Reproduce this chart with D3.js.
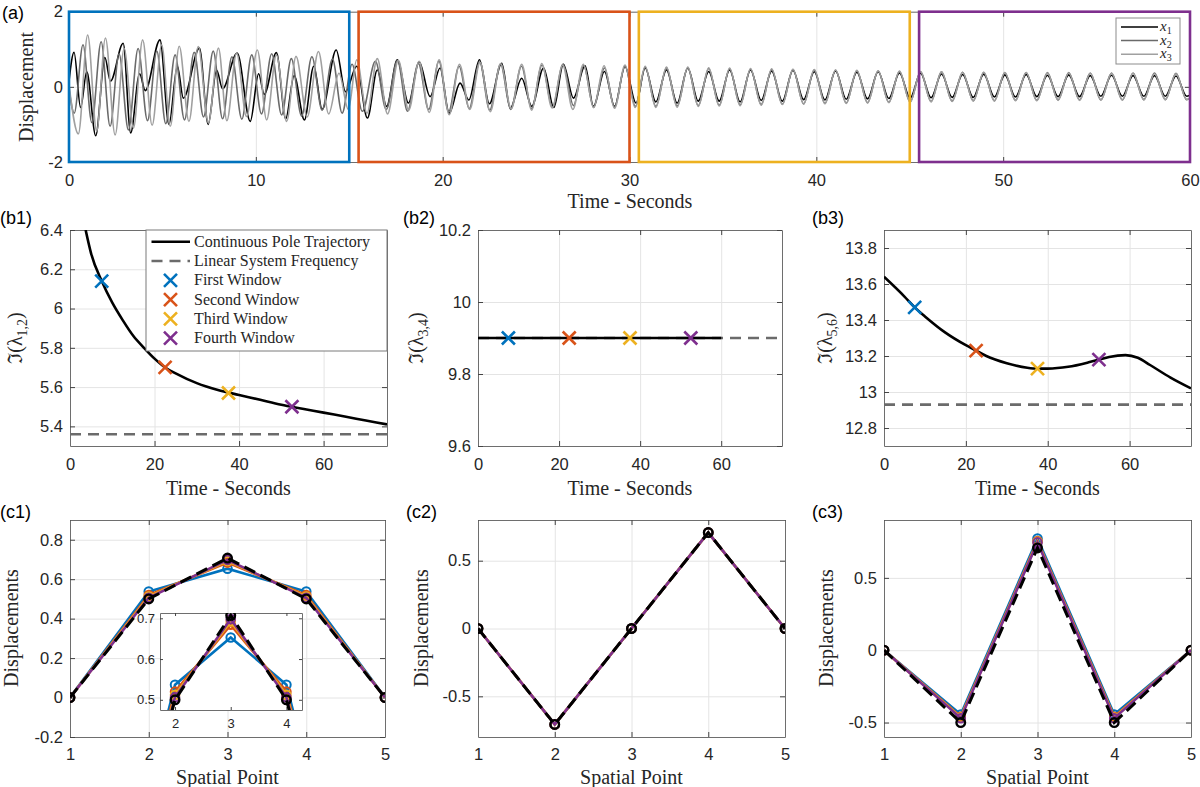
<!DOCTYPE html>
<html>
<head>
<meta charset="utf-8">
<script src="https://cdn.jsdelivr.net/npm/d3@7"></script>
<style>
  body { margin: 0; background: #fff; }
</style>
</head>
<body>
<svg id="fig" width="1200" height="787"></svg>
<script>
// ---- data ----
const seriesNames = ["x1", "x2", "x3"];
const windowNames = ["First Window", "Second Window", "Third Window", "Fourth Window"];
const windowStart = [0, 15.5, 30.5, 45.5];
const windowEnd = [15, 30, 45, 60];
const windowMid = [7.5, 22.5, 37.5, 52.5];

// (a) displacement extrema, early part: [time, value]
const x1Early = [[0.00,0.15],[0.27,0.92],[0.62,-0.55],[0.95,0.40],[1.43,-1.30],[1.92,0.78],[2.22,0.15],[2.90,1.16],[3.30,-1.23],[3.78,0.35],[4.08,-0.10],[4.87,1.25],[5.35,-1.00],[5.80,0.55],[6.12,-0.30],[6.98,1.03],[7.45,-1.00],[7.90,0.45],[8.22,-0.05],[9.00,0.90],[9.70,-0.92],[10.15,0.35],[10.45,-0.20],[11.10,0.91],[11.60,-0.85],[12.05,0.30],[12.60,-0.88],[13.10,0.55],[13.55,-0.60],[14.30,0.98],[14.80,-0.13],[15.40,0.55],[15.97,-0.83],[16.50,0.45],[17.00,-0.52],[17.57,0.72],[18.17,-0.43],[18.74,0.67],[19.33,-0.26],[19.86,0.50],[20.35,-0.70],[20.93,0.10],[21.40,-0.35],[21.97,0.72],[22.50,-0.45],[23.16,0.63],[23.62,-0.57],[24.23,0.23],[24.77,-0.52],[25.40,0.50],[25.95,-0.55],[26.46,0.60],[27.00,-0.30],[27.62,0.56],[28.07,-0.52],[28.66,0.41],[29.20,-0.52],[29.76,0.54],[30.35,-0.43]];
const x2Early = [[0.00,-0.05],[0.28,-0.70],[0.75,1.12],[1.22,-0.95],[1.72,1.20],[2.20,-1.05],[2.68,0.88],[3.18,-1.15],[3.70,1.02],[4.20,-0.90],[4.70,0.95],[5.18,-0.98],[5.68,0.85],[6.18,-0.88],[6.70,0.92],[7.20,-0.80],[7.72,0.95],[8.22,-0.85],[8.72,0.80],[9.25,-0.86],[9.78,0.85],[10.30,-0.72],[10.85,0.88],[11.38,-0.75],[11.90,0.75],[12.45,-0.78],[13.00,0.80],[13.55,-0.62],[14.10,0.74],[14.62,-0.70],[15.15,0.60],[15.70,-0.65],[16.40,0.68],[16.98,-0.60],[17.58,0.70],[18.12,-0.65],[18.70,0.62],[19.25,-0.60],[19.80,0.68],[20.32,-0.66],[20.88,0.55],[21.42,-0.58],[21.98,0.66],[22.52,-0.62],[23.10,0.60],[23.64,-0.60],[24.22,0.55],[24.76,-0.58],[25.32,0.58],[25.88,-0.55],[26.44,0.60],[27.00,-0.50],[27.55,0.56],[28.08,-0.55],[28.66,0.50],[29.20,-0.54],[29.76,0.55],[30.32,-0.52]];
const x3Early = [[0.00,0.05],[0.50,-1.25],[1.00,1.38],[1.48,-1.18],[1.95,1.30],[2.47,-1.28],[2.95,1.02],[3.45,-1.10],[3.94,1.25],[4.45,-1.02],[4.96,1.12],[5.42,-1.05],[5.90,1.08],[6.42,-0.92],[6.92,1.07],[7.46,-0.96],[8.00,1.03],[8.45,-0.90],[8.97,0.90],[9.50,-0.79],[10.08,0.98],[10.58,-0.88],[11.10,0.85],[11.65,-0.92],[12.15,0.81],[12.75,-0.80],[13.35,0.94],[13.90,-0.72],[14.45,0.36],[14.95,-0.60],[15.40,0.72],[15.95,-0.70],[16.50,0.75],[17.05,-0.72],[17.63,0.70],[18.18,-0.62],[18.74,0.68],[19.28,-0.68],[19.81,0.72],[20.35,-0.74],[20.90,0.60],[21.45,-0.60],[22.00,0.65],[22.55,-0.66],[23.10,0.62],[23.67,-0.58],[24.23,0.60],[24.77,-0.62],[25.30,0.62],[25.86,-0.56],[26.42,0.58],[26.97,-0.60],[27.53,0.60],[28.08,-0.55],[28.64,0.56],[29.20,-0.57],[29.76,0.58],[30.30,-0.55]];

// (a) late part: shared extrema times, one value list per series
const tLate = [30.84,31.41,31.98,32.55,33.12,33.68,34.24,34.80,35.36,35.92,36.48,37.05,37.61,38.18,38.75,39.32,39.89,40.46,41.03,41.60,42.17,42.74,43.31,43.88,44.45,45.02,45.58,46.14,46.70,47.27,47.83,48.40,48.96,49.53,50.09,50.66,51.23,51.80,52.37,52.94,53.51,54.09,54.66,55.23,55.80,56.38,56.95,57.53,58.10,58.68,59.25,59.82,60.00];
const x1Late = [0.50,-0.40,0.45,-0.43,0.50,-0.38,0.41,-0.38,0.45,-0.40,0.45,-0.36,0.42,-0.38,0.44,-0.34,0.40,-0.35,0.42,-0.33,0.39,-0.32,0.40,-0.31,0.37,-0.30,0.36,-0.29,0.34,-0.28,0.33,-0.28,0.34,-0.27,0.32,-0.27,0.33,-0.26,0.31,-0.26,0.32,-0.26,0.30,-0.25,0.31,-0.25,0.30,-0.25,0.30,-0.25,0.29,-0.25,-0.22];
const x2Late = [0.52,-0.52,0.51,-0.51,0.50,-0.50,0.49,-0.49,0.48,-0.48,0.47,-0.47,0.46,-0.46,0.46,-0.45,0.45,-0.44,0.44,-0.43,0.43,-0.42,0.42,-0.41,0.41,-0.40,0.40,-0.39,0.40,-0.38,0.39,-0.37,0.39,-0.37,0.38,-0.36,0.38,-0.36,0.38,-0.35,0.38,-0.35,0.37,-0.35,0.37,-0.35,0.37,-0.34,0.37,-0.34,0.36,-0.34,-0.30];
const x3Late = [0.55,-0.55,0.53,-0.54,0.53,-0.52,0.51,-0.51,0.50,-0.50,0.49,-0.49,0.48,-0.47,0.47,-0.46,0.46,-0.45,0.45,-0.44,0.44,-0.43,0.43,-0.42,0.42,-0.41,0.41,-0.40,0.40,-0.39,0.39,-0.38,0.39,-0.38,0.38,-0.37,0.38,-0.37,0.37,-0.36,0.37,-0.36,0.36,-0.35,0.36,-0.35,0.36,-0.35,0.35,-0.34,0.35,-0.34,-0.30];

// (b) pole trajectories
const b1T = [3.7,5,7.5,10,12.5,15,17.5,20,22.5,25,30,35,40,45,50,55,60,65,70,75];
const b1V = [6.40,6.28,6.14,6.03,5.94,5.86,5.80,5.745,5.70,5.67,5.62,5.585,5.56,5.535,5.51,5.49,5.47,5.45,5.43,5.41];
const b2T = [0, 60];
const b2V = [9.90, 9.90];
const b3T = [0,5,7.5,10,15,20,22.5,25,30,35,37.5,40,45,50,52.5,55,59,62,65,70,75];
const b3V = [13.64,13.53,13.47,13.42,13.33,13.26,13.23,13.20,13.16,13.135,13.13,13.13,13.14,13.165,13.18,13.195,13.205,13.19,13.15,13.08,13.02];
const linearFreq = [5.36, 9.90, 12.93];
const b1Win = [6.14, 5.70, 5.57, 5.50];
const b2Win = [9.90, 9.90, 9.90, 9.90];
const b3Win = [13.47, 13.23, 13.13, 13.18];

// (c) mode shapes: one row per window, then the linear mode
const spatialPts = [1, 2, 3, 4, 5];
const c1Win = [[0,0.537,0.653,0.537,0],[0,0.520,0.684,0.520,0],[0,0.512,0.692,0.512,0],[0,0.506,0.698,0.506,0]];
const c1Lin = [0,0.5,0.707,0.5,0];
const c2Win = [[0,-0.707,0,0.707,0],[0,-0.707,0,0.707,0],[0,-0.707,0,0.707,0],[0,-0.707,0,0.707,0]];
const c2Lin = [0,-0.707,0,0.707,0];
const c3Win = [[0,-0.445,0.772,-0.445,0],[0,-0.46,0.755,-0.46,0],[0,-0.465,0.75,-0.465,0],[0,-0.47,0.745,-0.47,0]];
const c3Lin = [0,-0.5,0.707,-0.5,0];

// ticks
const aXTicks = [0,10,20,30,40,50,60];
const aYTicks = [-2,0,2];
const bXTicks = [0,20,40,60];
const b1YTicks = [5.4,5.6,5.8,6,6.2,6.4];
const b2YTicks = [9.6,9.8,10,10.2];
const b3YTicks = [12.8,13,13.2,13.4,13.6,13.8];
const cXTicks = [1,2,3,4,5];
const c1YTicks = [-0.2,0,0.2,0.4,0.6,0.8];
const c23YTicks = [-0.5,0,0.5];
const insetXTicks = [2,3,4];
const insetYTicks = [0.5,0.6,0.7];

// ---- drawing ----
const svg = d3.select("#fig");
const sans = "'Liberation Sans', Arial, Helvetica, sans-serif";
const serif = "'Liberation Serif', 'Times New Roman', serif";
const winColors = ["#0072BD", "#D95319", "#EDB120", "#7E2F8E"];
const seriesColors = ["#000000", "#6a6a6a", "#a0a0a0"];
const fmt = d => String(Math.round(d * 100) / 100);
let clipN = 0;

function axes(o) {
    const x = d3.scaleLinear().domain(o.xd).range([o.l, o.r]);
    const y = d3.scaleLinear().domain(o.yd).range([o.b, o.t]);
    const w = o.r - o.l, h = o.b - o.t;
    const fs = o.fs || 16.5;
    const g = svg.append("g");
    g.append("rect").attr("x", o.l).attr("y", o.t).attr("width", w).attr("height", h).attr("fill", "#fff");

    if (o.grid !== false) {
        const gridStyle = s => { s.select(".domain").remove(); s.selectAll("line").attr("stroke", "#e4e4e4"); };
        g.append("g").attr("transform", `translate(0,${o.b})`)
            .call(d3.axisBottom(x).tickValues(o.xt).tickSize(-h).tickFormat(""))
            .call(gridStyle);
        g.append("g").attr("transform", `translate(${o.l},0)`)
            .call(d3.axisLeft(y).tickValues(o.yt).tickSize(-w).tickFormat(""))
            .call(gridStyle);
    }

    const styleAx = s => {
        s.select(".domain").attr("stroke", "#6e6e6e").attr("stroke-width", 1);
        s.selectAll(".tick line").attr("stroke", "#444");
        s.selectAll("text").attr("font-family", sans).attr("font-size", fs).attr("fill", "#262626");
    };
    g.append("g").attr("transform", `translate(0,${o.b})`)
        .call(d3.axisBottom(x).tickValues(o.xt).tickSizeInner(-o.tk).tickSizeOuter(0).tickPadding(o.px || 12).tickFormat(fmt))
        .call(styleAx);
    g.append("g").attr("transform", `translate(0,${o.t})`)
        .call(d3.axisTop(x).tickValues(o.xt).tickSizeInner(-o.tk).tickSizeOuter(0).tickFormat(""))
        .call(styleAx);
    g.append("g").attr("transform", `translate(${o.l},0)`)
        .call(d3.axisLeft(y).tickValues(o.yt).tickSizeInner(-o.tk).tickSizeOuter(0).tickPadding(o.py || 7).tickFormat(fmt))
        .call(styleAx);
    g.append("g").attr("transform", `translate(${o.r},0)`)
        .call(d3.axisRight(y).tickValues(o.yt).tickSizeInner(-o.tk).tickSizeOuter(0).tickFormat(""))
        .call(styleAx);

    const id = "clip" + (clipN++);
    g.append("clipPath").attr("id", id).append("rect")
        .attr("x", o.l).attr("y", o.t).attr("width", w).attr("height", h);
    const plot = g.append("g").attr("clip-path", `url(#${id})`);
    return { x, y, g, plot };
}

function panelLabel(txt, x, y) {
    svg.append("text").attr("x", x).attr("y", y).attr("font-family", sans)
        .attr("font-size", 18).attr("fill", "#000").text(txt);
}

function xLabel(txt, x, y) {
    svg.append("text").attr("x", x).attr("y", y).attr("text-anchor", "middle")
        .attr("font-family", serif).attr("font-size", 20).attr("fill", "#262626").text(txt);
}

function yLabel(x, y, main, sub, tail) {
    const t = svg.append("text").attr("transform", `translate(${x},${y}) rotate(-90)`)
        .attr("text-anchor", "middle").attr("font-family", serif).attr("font-size", 20).attr("fill", "#262626");
    t.append("tspan").text(main);
    if (sub) {
        t.append("tspan").attr("font-size", 14).attr("dy", 5).text(sub);
        t.append("tspan").attr("dy", -5).text(tail);
    }
}

const crossPath = "M-6.5,-6.5L6.5,6.5M-6.5,6.5L6.5,-6.5";

// ---------- (a) ----------
const A = axes({ l: 69, r: 1190, t: 11.7, b: 162, xd: [0, 60], yd: [-2, 2], xt: aXTicks, yt: aYTicks, tk: 5, px: 12, py: 6 });
const lineA = d3.line().x(d => A.x(d[0])).y(d => A.y(d[1])).curve(d3.curveMonotoneX);
const series = [
    x1Early.concat(tLate.map((t, i) => [t, x1Late[i]])),
    x2Early.concat(tLate.map((t, i) => [t, x2Late[i]])),
    x3Early.concat(tLate.map((t, i) => [t, x3Late[i]]))
];
series.forEach((s, i) => {
    A.plot.append("path").datum(s).attr("d", lineA).attr("fill", "none")
        .attr("stroke", seriesColors[i]).attr("stroke-width", 1.6);
});
windowStart.forEach((ws, i) => {
    svg.append("rect")
        .attr("x", A.x(ws)).attr("y", A.y(2))
        .attr("width", A.x(windowEnd[i]) - A.x(ws)).attr("height", A.y(-2) - A.y(2))
        .attr("fill", "none").attr("stroke", winColors[i]).attr("stroke-width", 2.6);
});
// legend (a)
const legA = svg.append("g");
legA.append("rect").attr("x", 1116).attr("y", 18).attr("width", 64).attr("height", 46)
    .attr("fill", "#fff").attr("stroke", "#8c8c8c").attr("stroke-width", 1);
seriesNames.forEach((n, i) => {
    const yy = 27 + i * 13.6;
    legA.append("line").attr("x1", 1121).attr("x2", 1158).attr("y1", yy).attr("y2", yy)
        .attr("stroke", seriesColors[i]).attr("stroke-width", 1.5);
    const t = legA.append("text").attr("x", 1160).attr("y", yy + 4).attr("font-family", serif)
        .attr("font-size", 15).attr("fill", "#262626");
    t.append("tspan").attr("font-style", "italic").text(n[0]);
    t.append("tspan").attr("font-size", 10).attr("dy", 3).text(n.slice(1));
});
panelLabel("(a)", 2, 19);
xLabel("Time - Seconds", 630, 208);
yLabel(33, 87, "Displacement");

// ---------- (b) ----------
const bPanels = [
    { l: 70, r: 387, yd: [5.3, 6.4], yt: b1YTicks, T: b1T, V: b1V, win: b1Win, lab: "(b1)", lx: 0, sub: "1,2", ylx: 22 },
    { l: 478, r: 782, yd: [9.6, 10.2], yt: b2YTicks, T: b2T, V: b2V, win: b2Win, lab: "(b2)", lx: 403, sub: "3,4", ylx: 423 },
    { l: 884, r: 1191, yd: [12.7, 13.9], yt: b3YTicks, T: b3T, V: b3V, win: b3Win, lab: "(b3)", lx: 812, sub: "5,6", ylx: 832 }
];
bPanels.forEach((p, k) => {
    const B = axes({ l: p.l, r: p.r, t: 230, b: 446, xd: [0, 75], yd: p.yd, xt: bXTicks, yt: p.yt, tk: 5, px: 12, py: 7 });
    B.plot.append("line")
        .attr("x1", B.x(0)).attr("x2", B.x(75))
        .attr("y1", B.y(linearFreq[k])).attr("y2", B.y(linearFreq[k]))
        .attr("stroke", "#6b6b6b").attr("stroke-width", 2.6).attr("stroke-dasharray", "11,7");
    const ln = d3.line().x((d, i) => B.x(p.T[i])).y(d => B.y(d)).curve(d3.curveMonotoneX);
    B.plot.append("path").datum(p.V).attr("d", ln).attr("fill", "none")
        .attr("stroke", "#000").attr("stroke-width", 2.6);
    p.win.forEach((v, i) => {
        B.plot.append("path").attr("d", crossPath)
            .attr("transform", `translate(${B.x(windowMid[i])},${B.y(v)})`)
            .attr("fill", "none").attr("stroke", winColors[i]).attr("stroke-width", 2.6);
    });
    panelLabel(p.lab, p.lx, 224);
    xLabel("Time - Seconds", (p.l + p.r) / 2, 495);
    yLabel(p.ylx, 338, "\u2111(\u03bb", p.sub, ")");

    if (k === 0) {
        const leg = svg.append("g");
        leg.append("rect").attr("x", 146).attr("y", 230).attr("width", 241).attr("height", 121)
            .attr("fill", "#fff").attr("stroke", "#7a7a7a").attr("stroke-width", 1);
        const rows = ["Continuous Pole Trajectory", "Linear System Frequency"].concat(windowNames);
        rows.forEach((r, i) => {
            const yy = 241.7 + i * 19.3;
            if (i === 0) {
                leg.append("line").attr("x1", 151.5).attr("x2", 190).attr("y1", yy).attr("y2", yy)
                    .attr("stroke", "#000").attr("stroke-width", 2.6);
            } else if (i === 1) {
                leg.append("line").attr("x1", 151.5).attr("x2", 190).attr("y1", yy).attr("y2", yy)
                    .attr("stroke", "#6b6b6b").attr("stroke-width", 2.6).attr("stroke-dasharray", "11,7");
            } else {
                leg.append("path").attr("d", crossPath).attr("transform", `translate(170.5,${yy})`)
                    .attr("fill", "none").attr("stroke", winColors[i - 2]).attr("stroke-width", 2.6);
            }
            leg.append("text").attr("x", 194).attr("y", yy + 5).attr("font-family", serif)
                .attr("font-size", 16).attr("fill", "#262626").text(r);
        });
    }
});

// ---------- (c) ----------
function drawModes(C, win, lin, r) {
    const ln = d3.line().x((d, i) => C.x(spatialPts[i])).y(d => C.y(d));
    win.forEach((m, i) => {
        C.plot.append("path").datum(m).attr("d", ln).attr("fill", "none")
            .attr("stroke", winColors[i]).attr("stroke-width", 2.6);
        C.plot.selectAll(null).data(m).enter().append("circle")
            .attr("cx", (d, j) => C.x(spatialPts[j])).attr("cy", d => C.y(d)).attr("r", r)
            .attr("fill", "none").attr("stroke", winColors[i]).attr("stroke-width", 2);
    });
    C.plot.append("path").datum(lin).attr("d", ln).attr("fill", "none")
        .attr("stroke", "#000").attr("stroke-width", 3).attr("stroke-dasharray", "12,6");
    C.plot.selectAll(null).data(lin).enter().append("circle")
        .attr("cx", (d, j) => C.x(spatialPts[j])).attr("cy", d => C.y(d)).attr("r", r)
        .attr("fill", "none").attr("stroke", "#000").attr("stroke-width", 2.4);
}

const cPanels = [
    { l: 70, r: 385, yd: [-0.2, 0.9], yt: c1YTicks, win: c1Win, lin: c1Lin, lab: "(c1)", lx: 0, ylx: 18 },
    { l: 478, r: 785, yd: [-0.8, 0.8], yt: c23YTicks, win: c2Win, lin: c2Lin, lab: "(c2)", lx: 406, ylx: 428 },
    { l: 884, r: 1191, yd: [-0.6, 0.9], yt: c23YTicks, win: c3Win, lin: c3Lin, lab: "(c3)", lx: 812, ylx: 833 }
];
cPanels.forEach(p => {
    const C = axes({ l: p.l, r: p.r, t: 520, b: 737, xd: [1, 5], yd: p.yd, xt: cXTicks, yt: p.yt, tk: 5, px: 11, py: 7 });
    drawModes(C, p.win, p.lin, 4.3);
    panelLabel(p.lab, p.lx, 518);
    xLabel("Spatial Point", (p.l + p.r) / 2, 784);
    yLabel(p.ylx, 628, "Displacements");
});

// inset in (c1)
const I = axes({ l: 160, r: 302, t: 613, b: 710, xd: [1.73, 4.28], yd: [0.475, 0.713], xt: insetXTicks, yt: insetYTicks, tk: 3, fs: 13, px: 9, py: 5, grid: false });
drawModes(I, c1Win, c1Lin, 4.3);
</script>
</body>
</html>
